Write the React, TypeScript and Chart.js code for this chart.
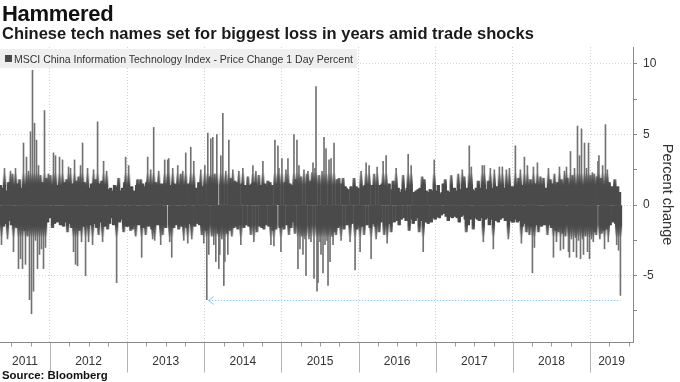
import React, { useEffect, useRef } from 'react';
import { Chart, registerables } from 'chart.js';

Chart.register(...registerables);

const FONT = '"Liberation Sans", Arial, sans-serif';

const TITLE = 'Hammered';
const SUBTITLE = 'Chinese tech names set for biggest loss in years amid trade shocks';
const SERIES_LABEL = 'MSCI China Information Technology Index - Price Change 1 Day Percent';
const SOURCE = 'Source: Bloomberg';
const Y_TITLE = 'Percent change';

const YEAR_STARTS = [2011, 2012, 2013, 2014, 2015, 2016, 2017, 2018, 2019];
const YEAR_LABELS = ['2011', '2012', '2013', '2014', '2015', '2016', '2017', '2018', '2019'];
const FIRST_DAY = 2011.352;
const LAST_DAY = 2019.4;
const X_MIN = 2011.352;
const X_MAX = 2019.557;
const Y_MIN = -9.7;
const Y_MAX = 11.2;
const Y_TICK_VALUES = [-7.5, -5, -2.5, 0, 2.5, 5, 7.5, 10];

// Daily percent change (about one bar per pixel column)
const pct2011 = [
  1.4, -2.8, 1.2, -1.5, 2.6, -1.3, 1.0, -2.4, 1.6, -1.1,
  2.4, -1.4, 2.2, -3.3, 1.3, 2.6, -1.6, 1.5, -4.5, 1.8,
  -3.8, 1.2, -4.5, 4.4, -1.8, -4.2, 3.4, -2.2, 2.4, -6.7,
  5.2, -7.7, 9.55, -6.1, 5.8, -2.5, 4.6, -4.5, 2.8, -3.5,
  2.1, -3.1, 1.6, -4.5, 6.7, -3.0, 1.9, -1.2, 2.2, -0.9,
];
const pct2012 = [
  2.1, 1.1, -1.6, 3.7, -1.3, 3.5, 1.4, -1.2, 1.1, 3.4,
  -1.4, 1.3, 3.2, -1.5, 1.6, -1.2, 1.8, -1.9, 2.7, -1.3,
  2.6, -1.6, 1.5, -3.3, 3.2, -4.2, 1.7, -4.3, 2.0, -1.8,
  2.8, -2.6, 4.4, -1.5, 1.6, -5.0, 1.4, 2.6, -2.6, 1.2,
  -1.4, 1.5, -2.8, 2.5, -1.3, 1.8, -1.6, 5.9, -2.1, 1.5,
  -1.2, 1.7, -2.6, 3.1, -1.5, 1.3, 2.4, -1.7, 1.1, -1.3,
  1.2, -0.9, 1.0, -1.4, 1.4, -1.1, -5.5, 1.3, 1.9, -1.2,
  1.0, -1.0, 1.2, -1.9, 1.6, 3.4, -1.5,
];
const pct2013 = [
  -1.5, 2.8, 1.1, -1.8, 1.3, -1.7, 1.0, -1.3, -2.2, 1.4,
  1.8, -1.4, 1.2, 1.8, -3.7, 1.5, -1.6, 1.3, -2.1, 1.6,
  3.4, -1.5, 1.4, 2.5, -1.7, -2.4, 5.5, -2.5, 1.6, -1.3,
  -1.4, 2.4, -1.2, -2.8, 1.5, -2.1, 1.3, 3.2, -1.6, 1.5,
  3.2, 3.3, -2.6, 1.4, -3.7, 2.6, -1.6, 1.5, -1.4, 1.3,
  2.8, -1.7, 1.4, 2.2, -1.5, 2.4, -2.5, 1.2, 3.7, -1.6,
  -2.7, 1.5, -1.3, 4.1, -2.4, 1.4, 3.1, -1.5, 1.2, -1.1,
  -1.3, 1.6, -1.4, 2.5, -2.1, 1.3, -2.7,
];
const pct2014 = [
  2.8, -1.8, -6.7, 5.1, -3.5, 2.0, 4.7, -2.2, 4.8, -2.8,
  2.2, -4.0, 5.0, -2.0, -4.5, -3.5, 3.5, -2.4, 6.5, -5.7,
  -4.0, 2.4, -2.0, -3.5, 4.6, -1.8, 1.9, -2.2, 2.5, -1.6,
  1.7, -1.5, 1.6, -1.7, 2.4, -1.4, -2.8, 1.5, 2.6, -1.6,
  1.4, -1.4, 1.3, 2.0, -1.5, 1.4, -2.1, 1.5, 2.8, -2.6,
  1.6, 2.4, -1.9, 1.3, 2.1, -1.5, 1.4, -1.6, 3.1, -1.7,
  1.5, -1.4, 1.3, 1.7, -1.5, 1.6, -2.8, 1.4, -1.8, -2.9,
  4.6, -1.7, 1.5, 4.2, 2.6, -1.6, -3.3,
];
const pct2015 = [
  3.3, -1.5, -1.7, 1.6, 2.5, -1.4, 3.3, -2.1, 1.5, -1.6,
  1.4, -1.2, 5.0, -2.0, 1.8, 4.6, -4.5, 2.8, -3.1, 2.0,
  -2.2, -3.5, 2.5, -2.4, -5.0, 2.2, 2.4, -2.4, 1.7, -2.6,
  2.3, 3.0, -5.2, 2.6, 8.4, -6.1, -5.5, 2.1, -2.6, -3.5,
  2.4, -4.8, 4.8, -2.8, 4.0, -2.5, -5.7, 3.2, -4.0, 3.3,
  -2.2, -2.8, 4.4, -1.9, -2.1, 1.8, -1.6, 1.9, -1.4, -2.5,
  1.5, 1.9, -1.7, 1.3, 1.2, -1.4, 1.1, -1.2, -2.6, 1.3,
  -1.3, 1.2, 1.9, -4.6, 1.3, -1.7, 1.2,
];
const pct2016 = [
  -1.4, -3.3, 2.4, -1.5, 1.3, -2.1, 1.4, 3.0, -1.4, 1.5,
  2.8, -1.6, -3.8, 1.4, -1.3, 2.2, -1.5, -2.4, 2.7, -1.3,
  -1.9, 1.4, -1.2, 1.5, 3.1, -2.1, 1.4, 3.5, -2.7, 1.2,
  1.5, -1.3, -1.9, 1.1, 1.7, -1.2, 1.0, 2.6, -1.1, 1.2,
  -1.4, 0.9, -1.0, 1.1, 2.1, -0.9, 1.0, -1.1, 1.2, 3.6,
  -1.8, 1.3, 2.8, -1.0, -1.3, 0.9, -1.1, 1.0, -0.9, 1.1,
  -1.9, 1.2, -1.1, 2.0, -3.3, 1.8, -1.2, 1.0, -1.0, -1.3,
  0.9, 1.1, -1.2, 1.0, -0.9, 3.2, -1.0,
];
const pct2017 = [
  1.0, -0.8, 1.4, -0.9, 0.8, -0.7, 0.9, 1.5, -0.6, 1.8,
  -0.8, 1.0, -1.1, 0.9, -0.8, 2.1, -0.9, -0.7, 1.2, -0.8,
  1.0, -0.9, 2.2, -1.2, 1.1, -0.8, 2.5, -0.7, 2.0, -1.0,
  -1.9, 1.2, -1.4, 4.2, -1.0, 2.7, 1.1, -1.7, 1.0, -0.9,
  1.2, -1.0, 1.7, -1.1, 1.2, -0.9, 2.8, -2.6, 2.8, -1.0,
  1.1, -0.9, 1.7, -1.4, 2.6, -1.0, 1.2, -3.1, 2.5, -1.1,
  1.3, -0.9, -1.2, 2.7, -1.0, 1.1, 2.7, -0.9, 1.2, -1.1,
  2.5, -1.0, -2.4, 2.6, -1.1, 1.3, -1.2,
];
const pct2018 = [
  -1.2, 1.3, 4.2, -1.0, -1.2, 1.9, -1.1, 2.5, -2.7, -1.5,
  1.4, 3.4, -1.3, -1.9, 2.8, -1.2, -2.1, 1.8, -1.5, -4.8,
  2.7, -3.0, 1.5, -1.4, 3.0, -1.9, 1.4, 2.0, -1.5, 1.3,
  1.9, -1.4, 1.2, -1.3, -2.1, 2.6, -1.4, 1.8, -1.6, 1.5,
  -3.7, 2.2, -1.8, -2.6, 1.6, -1.9, 2.7, -3.2, 1.8, -2.0,
  -3.1, 2.4, -2.2, 2.7, 1.9, -3.3, -3.7, 3.8, -2.4, 2.1,
  -3.3, 2.6, -2.3, -3.7, 5.6, -2.5, 3.5, -3.8, 5.4, -2.4,
  -3.5, 4.4, -2.2, 2.6, -3.3, 4.4, -3.8,
];
const pct2019 = [
  2.1, -2.4, 2.3, -2.6, 2.2, -1.9, -2.1, 2.0, 3.1, 3.5,
  -2.4, 1.9, -2.0, 2.8, -1.8, -3.1, 5.7, -1.7, 2.5, -2.6,
  1.6, -1.4, 1.2, 1.3, -1.2, 1.1, 1.8, -1.3, -2.8, 1.3,
  -3.2, 0.9, -6.4,
];

const SERIES_BY_YEAR = [pct2011, pct2012, pct2013, pct2014, pct2015, pct2016, pct2017, pct2018, pct2019];

const CORE_RGB = '74,74,74';
const SPIKE_COLOR = '#727272';

type Pt = { x: number; y: number };

function buildPoints(): Pt[][] {
  return SERIES_BY_YEAR.map((vals, k) => {
    const start = Math.max(YEAR_STARTS[k], FIRST_DAY);
    const end = Math.min(YEAR_STARTS[k] + 1, LAST_DAY);
    const step = (end - start) / vals.length;
    return vals.map((v, i) => ({ x: start + (i + 0.5) * step, y: v }));
  });
}

export default function App() {
  const canvasRef = useRef<HTMLCanvasElement | null>(null);

  useEffect(() => {
    document.body.style.margin = '0';
    const canvas = canvasRef.current;
    if (!canvas) return;

    const byYear = buildPoints();
    const points = byYear.flat();
    const idx2014 = YEAR_STARTS.indexOf(2014);
    const low2014 = byYear[idx2014].reduce((a, b) => (b.y < a.y ? b : a));
    const lastPoint = points[points.length - 1];

    // dense core: dark near zero, fading out so only the thin spikes remain beyond it
    let gradCache: { key: string; g: CanvasGradient } | null = null;
    const coreColor = (ctx: any) => {
      const chart = ctx.chart;
      const area = chart.chartArea;
      if (!area) return `rgb(${CORE_RGB})`;
      const y = chart.scales.y;
      const key = `${area.top}-${area.bottom}`;
      if (gradCache && gradCache.key === key) return gradCache.g;
      const top = area.top;
      const bottom = area.bottom;
      const g = chart.ctx.createLinearGradient(0, top, 0, bottom);
      const stop = (v: number) => (y.getPixelForValue(v) - top) / (bottom - top);
      const clear = `rgba(${CORE_RGB},0)`;
      const solid = `rgba(${CORE_RGB},1)`;
      g.addColorStop(0, clear);
      g.addColorStop(stop(2.3), clear);
      g.addColorStop(stop(1.4), solid);
      g.addColorStop(stop(-1.4), solid);
      g.addColorStop(stop(-2.3), clear);
      g.addColorStop(1, clear);
      gradCache = { key, g };
      return g;
    };

    const bottomAxisPlugin = {
      id: 'bottomAxis',
      afterDraw(chart: any) {
        const { ctx, chartArea, scales } = chart;
        const x = scales.x;
        const y0 = Math.round(chartArea.bottom) + 0.5;
        ctx.save();
        ctx.lineWidth = 1;
        ctx.strokeStyle = '#9a9a9a';
        YEAR_STARTS.forEach((yr) => {
          for (let q = 1; q < 4; q++) {
            const v = yr + q / 4;
            if (v <= X_MIN || v >= X_MAX) continue;
            const px = Math.round(x.getPixelForValue(v)) + 0.5;
            ctx.beginPath();
            ctx.moveTo(px, y0);
            ctx.lineTo(px, y0 + 4);
            ctx.stroke();
          }
        });
        ctx.strokeStyle = '#b4b4b4';
        YEAR_STARTS.forEach((yr) => {
          if (yr <= X_MIN || yr >= X_MAX) return;
          const px = Math.round(x.getPixelForValue(yr)) + 0.5;
          ctx.beginPath();
          ctx.moveTo(px, y0);
          ctx.lineTo(px, y0 + 30);
          ctx.stroke();
        });
        ctx.strokeStyle = '#8a8a8a';
        ctx.beginPath();
        ctx.moveTo(chartArea.left, y0);
        ctx.lineTo(chartArea.right, y0);
        ctx.stroke();
        ctx.fillStyle = '#333333';
        ctx.font = `12px ${FONT}`;
        ctx.textAlign = 'center';
        ctx.textBaseline = 'middle';
        YEAR_STARTS.forEach((yr, i) => {
          const a = x.getPixelForValue(Math.max(yr, X_MIN));
          const b = x.getPixelForValue(Math.min(yr + 1, X_MAX));
          ctx.fillText(YEAR_LABELS[i], (a + b) / 2, y0 + 19);
        });
        ctx.restore();
      },
    };

    const arrowPlugin = {
      id: 'lowArrow',
      afterDatasetsDraw(chart: any) {
        const { ctx, scales } = chart;
        const x1 = scales.x.getPixelForValue(low2014.x);
        const x2 = scales.x.getPixelForValue(lastPoint.x);
        const py = Math.round(scales.y.getPixelForValue(low2014.y)) + 0.5;
        ctx.save();
        ctx.strokeStyle = '#8ec8f2';
        ctx.lineWidth = 1;
        ctx.setLineDash([1.5, 1.5]);
        ctx.beginPath();
        ctx.moveTo(x1 + 2, py);
        ctx.lineTo(x2, py);
        ctx.stroke();
        ctx.setLineDash([]);
        ctx.beginPath();
        ctx.moveTo(x1 + 7, py - 4);
        ctx.lineTo(x1 + 1.5, py);
        ctx.lineTo(x1 + 7, py + 4);
        ctx.stroke();
        ctx.restore();
      },
    };

    const chart = new Chart(canvas, {
      type: 'bar',
      data: {
        datasets: [
          {
            label: SERIES_LABEL,
            data: points as any,
            backgroundColor: coreColor as any,
            borderWidth: 0,
            barThickness: 2.8,
            grouped: false,
            order: 0,
          },
          {
            label: SERIES_LABEL,
            data: points as any,
            backgroundColor: SPIKE_COLOR,
            borderWidth: 0,
            barThickness: 1,
            grouped: false,
            order: 1,
          },
        ],
      },
      options: {
        responsive: false,
        animation: false,
        events: [],
        layout: { padding: { top: 47, left: 0, right: 0, bottom: 0 } },
        plugins: { legend: { display: false }, tooltip: { enabled: false } },
        scales: {
          x: {
            type: 'linear',
            min: X_MIN,
            max: X_MAX,
            offset: false,
            afterBuildTicks: (s: any) => {
              s.ticks = YEAR_STARTS.filter((v) => v > X_MIN && v < X_MAX).map((v) => ({ value: v }));
            },
            ticks: { display: false },
            grid: { color: '#d2d2d2', lineWidth: 1, drawTicks: false, offset: false },
            border: { display: false, dash: [1, 2] },
            afterFit: (s: any) => {
              s.height = 40;
              s.paddingLeft = 0;
              s.paddingRight = 0;
            },
          },
          y: {
            type: 'linear',
            position: 'right',
            min: Y_MIN,
            max: Y_MAX,
            afterBuildTicks: (s: any) => {
              s.ticks = Y_TICK_VALUES.map((v) => ({ value: v }));
            },
            ticks: {
              callback: (v: any) => (Number(v) % 5 === 0 ? String(v) : ''),
              font: { family: FONT, size: 12 },
              color: '#333333',
              padding: 6,
            },
            grid: {
              color: (c: any) => (c.tick && c.tick.value % 5 === 0 ? '#d2d2d2' : 'rgba(0,0,0,0)'),
              tickColor: '#8a8a8a',
              tickLength: 4,
              tickBorderDash: [],
            },
            border: { display: true, color: '#8a8a8a', dash: [1, 2] },
            title: {
              display: true,
              text: Y_TITLE,
              font: { family: FONT, size: 14.5 },
              color: '#333333',
              padding: { top: 4, bottom: 0 },
            },
            afterFit: (s: any) => {
              s.width = 47;
              s.paddingTop = 0;
              s.paddingBottom = 0;
            },
          },
        },
      },
      plugins: [bottomAxisPlugin, arrowPlugin],
    } as any);

    return () => chart.destroy();
  }, []);

  return (
    <div style={{ position: 'relative', width: 680, height: 382, overflow: 'hidden', fontFamily: FONT, background: '#ffffff' }}>
      <canvas ref={canvasRef} width={680} height={382} style={{ position: 'absolute', left: 0, top: 0, display: 'block' }} />
      <div style={{ position: 'absolute', left: 2, top: 3, fontSize: 22, lineHeight: '22px', fontWeight: 700, color: '#111', whiteSpace: 'nowrap', letterSpacing: -0.3 }}>
        {TITLE}
      </div>
      <div style={{ position: 'absolute', left: 2, top: 25, fontSize: 16.5, lineHeight: '16.5px', fontWeight: 700, color: '#1a1a1a', whiteSpace: 'nowrap' }}>
        {SUBTITLE}
      </div>
      <div
        style={{
          position: 'absolute', left: 0, top: 49, width: 357, height: 19, background: '#efefef',
          display: 'flex', alignItems: 'center', fontSize: 10.5, color: '#333', whiteSpace: 'nowrap',
        }}
      >
        <span style={{ display: 'inline-block', width: 7, height: 7, background: '#4a4a4a', marginLeft: 5, marginRight: 2 }} />
        <span>{SERIES_LABEL}</span>
      </div>
      <div style={{ position: 'absolute', left: 2, top: 370, fontSize: 11.4, lineHeight: '11.4px', fontWeight: 700, color: '#111', whiteSpace: 'nowrap' }}>
        {SOURCE}
      </div>
    </div>
  );
}
